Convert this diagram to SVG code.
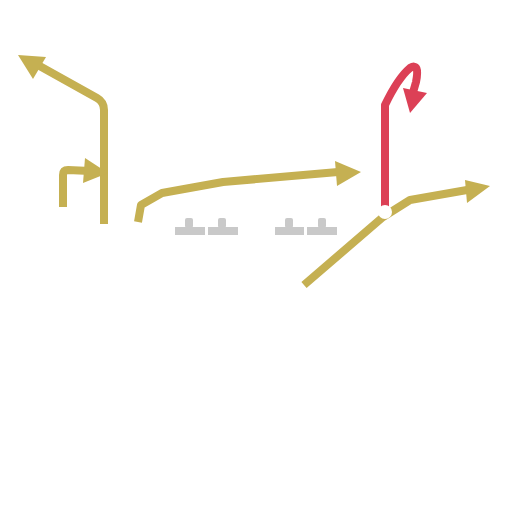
<svg xmlns="http://www.w3.org/2000/svg" width="512" height="512" viewBox="0 0 512 512">
<style>
.g{fill:none;stroke:#c5b052;stroke-width:8;stroke-linejoin:round}
.gh{fill:#c5b052}
.r{fill:none;stroke:#dc4056;stroke-width:8;stroke-linejoin:round}
.rh{fill:#dc4056}
.ol{fill:#c9c9c9}
</style>
<rect width="512" height="512" fill="#fff"/>
<g id="connectors">
<path class="g" d="M104,224 V110 Q104,102 97,98 L36,64"/>
<polygon class="gh" points="18,55 46,57 33,79"/>
<path class="g" d="M63,207 V175 Q63,170 68,170 L90,171"/>
<polygon class="gh" points="108,173 85,158 83,183"/>
<path class="g" d="M138,222 L141,205 L162,193 L223,182 L338,172"/>
<polygon class="gh" points="361,172 335,161 337,186"/>
<path class="g" d="M304,285 L383,217 L410,200 L467,190"/>
<polygon class="gh" points="490,186 465,180 467,203"/>
<path class="r" d="M385,210 V105 Q398,78 410,68 Q420,62 416,82 L412,96"/>
<polygon class="rh" points="410,113 403,88 427,93"/>
</g>
<g id="lineman1"><rect class="ol" x="175" y="227" width="30" height="8"/><rect class="ol" x="185" y="218" width="8" height="10" rx="2"/></g>
<g id="lineman2"><rect class="ol" x="208" y="227" width="30" height="8"/><rect class="ol" x="218" y="218" width="8" height="10" rx="2"/></g>
<g id="lineman3"><rect class="ol" x="275" y="227" width="29" height="8"/><rect class="ol" x="285" y="218" width="8" height="10" rx="2"/></g>
<g id="lineman4"><rect class="ol" x="307" y="227" width="30" height="8"/><rect class="ol" x="318" y="218" width="8" height="10" rx="2"/></g>
<g id="qb"><circle cx="385" cy="212" r="7" fill="#fff"/></g>
</svg>
